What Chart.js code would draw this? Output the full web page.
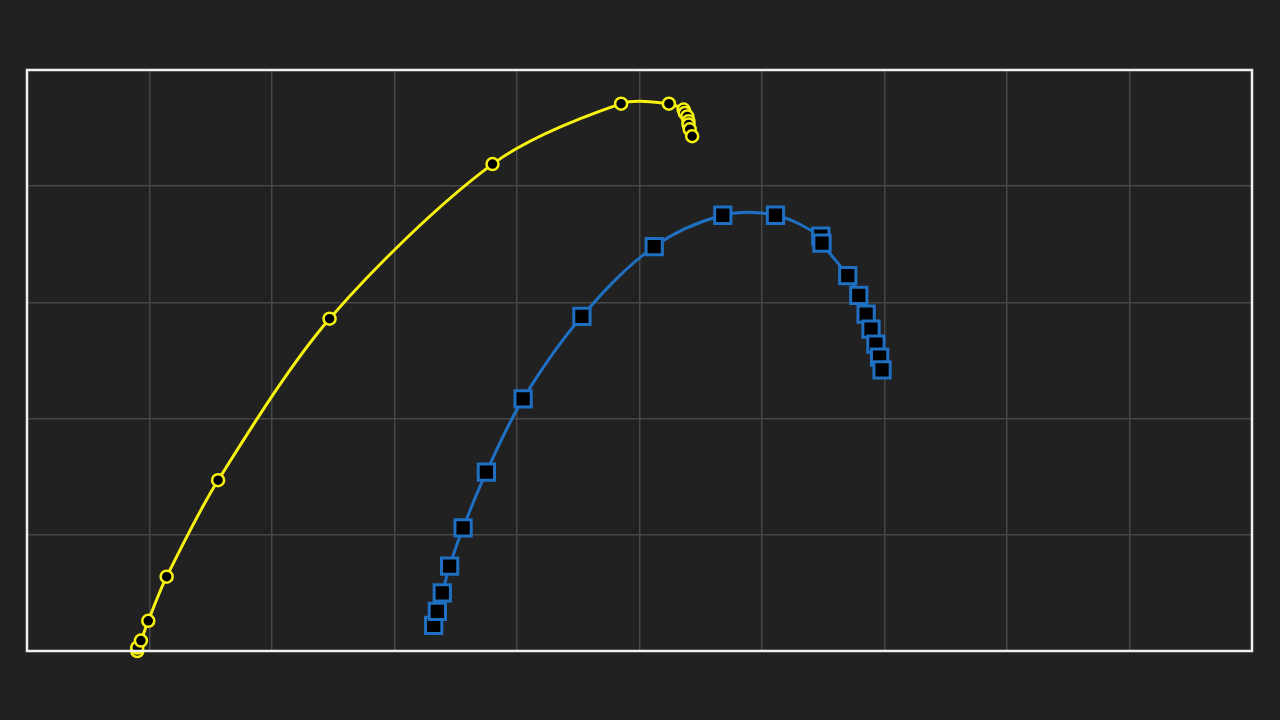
<!DOCTYPE html>
<html>
<head>
<meta charset="utf-8">
<style>
  html, body { margin: 0; padding: 0; background: #212121; }
  #wrap { width: 1280px; height: 720px; }
</style>
<script src="https://cdn.jsdelivr.net/npm/chart.js@4/dist/chart.umd.min.js"></script>
</head>
<body>
<div id="wrap"><canvas id="grafico"></canvas></div>
<script>
// datos (unidades de cuadricula)
const serieAmarillaX = [0.90, 0.90, 0.93, 0.99, 1.14, 1.56, 2.47, 3.80, 4.85, 5.24, 5.36, 5.37, 5.39, 5.40, 5.40, 5.41, 5.43];
const serieAmarillaY = [0.00, 0.03, 0.09, 0.26, 0.64, 1.47, 2.86, 4.19, 4.71, 4.71, 4.66, 4.63, 4.60, 4.56, 4.53, 4.49, 4.43];

const serieAzulX = [3.32, 3.35, 3.39, 3.45, 3.56, 3.75, 4.05, 4.53, 5.12, 5.68, 6.11, 6.48, 6.49, 6.70, 6.79, 6.85, 6.89, 6.93, 6.96, 6.98];
const serieAzulY = [0.22, 0.34, 0.50, 0.73, 1.06, 1.54, 2.17, 2.88, 3.48, 3.75, 3.75, 3.57, 3.51, 3.23, 3.06, 2.90, 2.77, 2.64, 2.53, 2.42];

const limitesX = [0, 10];
const limitesY = [0, 5];

function puntos(xs, ys) {
    return xs.map((x, i) => ({ x: x, y: ys[i] }));
}

// marco blanco alrededor del area del grafico
const marco = {
    id: 'marco',
    afterDraw(chart) {
        const a = chart.chartArea;
        const ctx = chart.ctx;
        ctx.save();
        ctx.strokeStyle = '#f0f0f0';
        ctx.lineWidth = 2.5;
        ctx.strokeRect(a.left, a.top, a.right - a.left, a.bottom - a.top);
        ctx.restore();
    }
};

const ctx = document.getElementById('grafico').getContext('2d');
new Chart(ctx, {
    type: 'scatter',
    data: {
        datasets: [{
            label: 'A',
            data: puntos(serieAmarillaX, serieAmarillaY),
            showLine: true,
            borderColor: '#f7f20f',
            borderWidth: 3,
            backgroundColor: '#000000',
            pointBorderColor: '#f7f20f',
            pointBackgroundColor: '#000000',
            pointBorderWidth: 2.5,
            pointRadius: 6,
            pointStyle: 'circle',
            tension: 0.3,
            clip: false
        }, {
            label: 'B',
            data: puntos(serieAzulX, serieAzulY),
            showLine: true,
            borderColor: '#1f6fc2',
            borderWidth: 3,
            backgroundColor: '#000000',
            pointBorderColor: '#1f6fc2',
            pointBackgroundColor: '#000000',
            pointBorderWidth: 3,
            pointRadius: 11.5,
            pointStyle: 'rect',
            tension: 0.35,
            clip: false
        }]
    },
    options: {
        responsive: true,
        maintainAspectRatio: false,
        animation: false,
        layout: { padding: { left: 27, top: 70, right: 28, bottom: 69 } },
        plugins: {
            legend: { display: false },
            tooltip: { enabled: false }
        },
        scales: {
            x: {
                type: 'linear',
                min: limitesX[0],
                max: limitesX[1],
                ticks: { display: false, stepSize: 1 },
                grid: { color: '#474747', lineWidth: 1.5, drawTicks: false },
                border: { display: false }
            },
            y: {
                type: 'linear',
                min: limitesY[0],
                max: limitesY[1],
                ticks: { display: false, stepSize: 1 },
                grid: { color: '#474747', lineWidth: 1.5, drawTicks: false },
                border: { display: false }
            }
        }
    },
    plugins: [marco]
});
</script>
</body>
</html>
